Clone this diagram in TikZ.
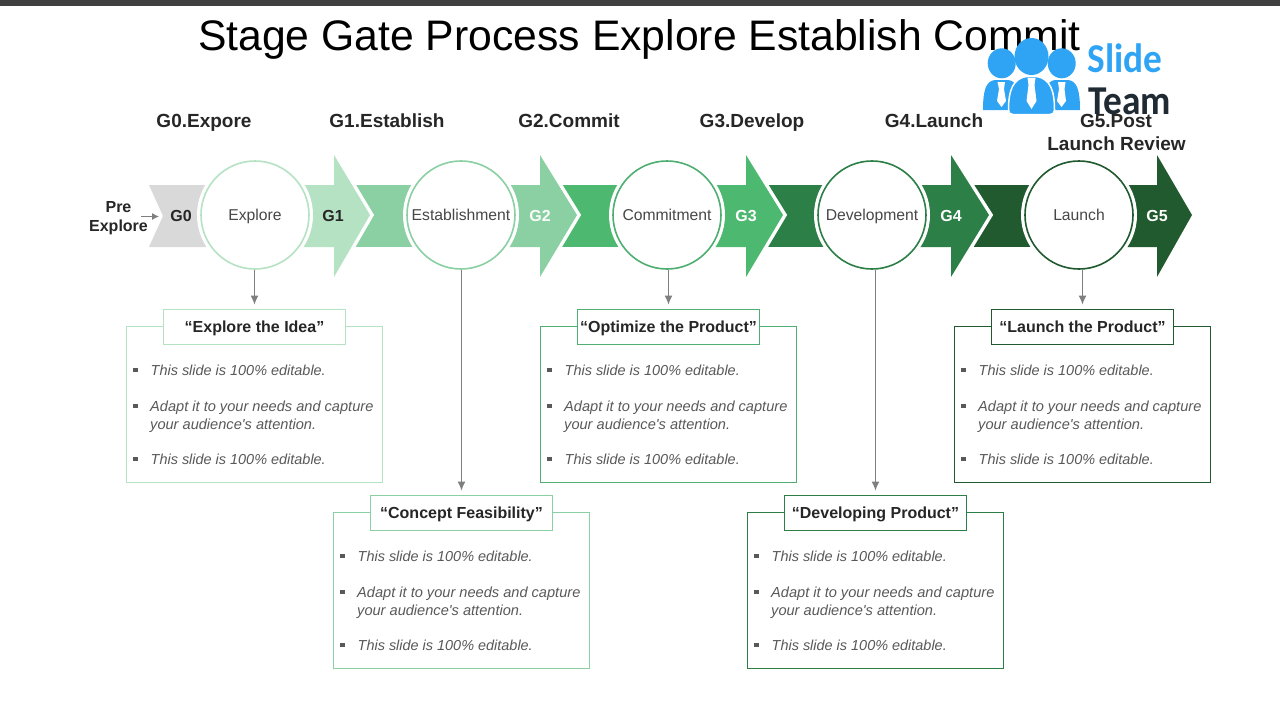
\documentclass[tikz,border=0pt]{standalone}
\usepackage{fontspec}
\setmainfont{Liberation Sans}[Ligatures=TeXOff]
\newfontfamily\logofont{Carlito}[FakeStretch=0.91]
\definecolor{cGrey}{HTML}{D9D9D9}
\definecolor{cA}{HTML}{B6E2C4}
\definecolor{cB}{HTML}{8AD0A3}
\definecolor{cC}{HTML}{4DB86F}
\definecolor{cCl}{HTML}{4FAE72}
\definecolor{cD}{HTML}{2C7F46}
\definecolor{cE}{HTML}{215A2E}
\definecolor{cText}{HTML}{262626}
\definecolor{cBody}{HTML}{595959}
\definecolor{cLine}{HTML}{7F7F7F}
\definecolor{cLogo}{HTML}{2FA4F4}
\definecolor{cTeam}{HTML}{1F2A33}
\usetikzlibrary{arrows.meta}
\tikzset{
  gatelabel/.style={font=\bfseries\fontsize{19}{23}\selectfont,text=cText,align=center,inner sep=0pt,anchor=base},
  gatecode/.style={font=\bfseries\fontsize{16}{19}\selectfont,inner sep=0pt,text height=11.5pt,text depth=0pt},
  stagecircle/.style={circle,minimum size=108pt,inner sep=0pt,fill=white,line width=1.6pt,
    preaction={draw=white,line width=8pt},font=\fontsize{15.7}{19}\selectfont,text=cText!85!white,
    text height=14.5pt,text depth=3.5pt},
  bodybox/.style={draw=#1,line width=1pt,fill=white,minimum width=256pt,minimum height=156pt,inner sep=0pt,anchor=north west},
  headbox/.style={draw=#1,line width=1pt,fill=white,minimum width=182pt,minimum height=35pt,inner sep=0pt,
    font=\bfseries\fontsize{16}{19}\selectfont,text=cText,text height=15.5pt,text depth=3.5pt},
  bodytext/.style={font=\itshape\fontsize{14.45}{17}\selectfont,text=cBody,inner sep=0pt,anchor=base west},
  bodywide/.style={bodytext,font=\itshape\fontsize{14.6}{17}\selectfont},
  bulletmark/.style={fill=cBody,minimum size=4.5pt,inner sep=0pt},
  feeder/.style={draw=cLine,line width=1pt,-{Latex[length=9pt,width=8pt]}},
  whitegap/.style={preaction={draw=white,line width=7pt}}
}
\newcommand{\gatearrow}[3]{% base of head x, tip x, colour
  \fill[#3,whitegap] (#1-40,185) -- (#1,185) -- (#1,155) -- (#2,215) -- (#1,277) -- (#1,247) -- (#1-40,247) -- cycle;}
\newcommand{\gateblock}[3]{% left x, right x, colour
  \fill[#3] (#1,185) -- (#2,185) -- (#2,247) -- (#1,247) -- cycle;}
\newcommand{\contentbox}[6]{% name, x, y, hx offset, colour, title
  \node[bodybox=#5] (b#1) at (#2,#3) {};
  \node[headbox=#5] (h#1) at (#2+#4,#3+1) {#6};
  \node[bulletmark] (b#1a) at (#2+10,#3+44.5) {};
  \node[bulletmark] (b#1b) at (#2+10,#3+80.5) {};
  \node[bulletmark] (b#1c) at (#2+10,#3+133.5) {};
  \node[bodytext] (t#1a) at (#2+25,#3+49.5) {This slide is 100\% editable.};
  \node[bodywide] (t#1b) at (#2+24.5,#3+86) {Adapt it to your needs and capture};
  \node[bodywide] (t#1c) at (#2+24.5,#3+104) {your audience's attention.};
  \node[bodytext] (t#1d) at (#2+25,#3+139) {This slide is 100\% editable.};
}
\begin{document}
\begin{tikzpicture}[x=1pt,y=-1pt]
\useasboundingbox (0,0) rectangle (1280,720);
\fill[white] (0,0) rectangle (1280,720);
\fill[black!75] (0,0) rectangle (1280,6);
\node[font=\fontsize{42.7}{50}\selectfont,text=black,inner sep=0pt,anchor=base] (title) at (639.5,50.5) {Stage Gate Process Explore Establish Commit};
% logo
\fill[cLogo] (983,110) .. controls (983,90) and (986,81) .. (995,80) -- (1008,80) .. controls (1018,81) and (1020,92) .. (1020,110) -- cycle;
\fill[cLogo] (1044,110) .. controls (1044,92) and (1046,81) .. (1055,80) -- (1068,80) .. controls (1077,81) and (1080,90) .. (1080,110) -- cycle;
\fill[cLogo] (1001.7,63.3) ellipse (14 and 15);
\fill[cLogo] (1061.7,63.3) ellipse (14 and 15);
\fill[cLogo,draw=white,line width=1.5pt] (1008.5,110) .. controls (1008.5,90) and (1013,79) .. (1026,76.5) -- (1037,76.5) .. controls (1050,79) and (1054.5,90) .. (1054.5,110) .. controls (1054.5,113) and (1053,114.5) .. (1050,114.5) -- (1013,114.5) .. controls (1010,114.5) and (1008.5,113) .. (1008.5,110) -- cycle;
\fill[cLogo] (1031.5,56.5) ellipse (17 and 18.5);
\fill[white] (1027.5,78) -- (1035.5,78) -- (1034.5,85) -- (1036.5,101) -- (1031.5,109) -- (1026.5,101) -- (1028.5,85) -- cycle;
\fill[white] (997.5,82) -- (1005,82) -- (1004,89) -- (1006,101) -- (1001.5,107) -- (997,101) -- (999,89) -- cycle;
\fill[white] (1058,82) -- (1065.5,82) -- (1064.5,89) -- (1066,101) -- (1061.5,107) -- (1057,101) -- (1059,89) -- cycle;
\node[font=\logofont\bfseries\fontsize{41}{44}\selectfont,text=cLogo,inner sep=0pt,anchor=base west] (slide) at (1087.5,72) {Slide};
\node[font=\logofont\bfseries\fontsize{41}{44}\selectfont,text=cTeam,inner sep=0pt,anchor=base west] (team) at (1088,114.5) {Team};
% gate headings
\node[gatelabel] (l0) at (204,127) {G0.Expore};
\node[gatelabel] (l1) at (387,127) {G1.Establish};
\node[gatelabel] (l2) at (569,127) {G2.Commit};
\node[gatelabel] (l3) at (752,127) {G3.Develop};
\node[gatelabel] (l4) at (934,127) {G4.Launch};
\node[gatelabel] (l5a) at (1116,127) {G5.Post};
\node[gatelabel] (l5b) at (1116.5,150) {Launch Review};
% band
\fill[cGrey] (149,185) -- (220,185) -- (220,247) -- (149,247) -- (163,216) -- cycle;
\gateblock{340}{420}{cB}
\gateblock{545}{625}{cC}
\gateblock{750}{830}{cD}
\gateblock{955}{1035}{cE}
\gatearrow{334}{370}{cA}
\gatearrow{540}{577}{cB}
\gatearrow{746}{783}{cC}
\gatearrow{951}{989}{cD}
\gatearrow{1157}{1192}{cE}
\node[stagecircle,draw=cA] (c1) at (255,215) {Explore};
\node[stagecircle,draw=cB] (c2) at (461,215) {Establishment};
\node[stagecircle,draw=cCl] (c3) at (667,215) {Commitment};
\node[stagecircle,draw=cD] (c4) at (872,215) {Development};
\node[stagecircle,draw=cE] (c5) at (1079,215) {Launch};
\node[gatecode,text=cText] (g0) at (181,216) {G0};
\node[gatecode,text=cText] (g1) at (333,216) {G1};
\node[gatecode,text=white!90!cA] (g2) at (540,216) {G2};
\node[gatecode,text=white] (g3) at (746,216) {G3};
\node[gatecode,text=white] (g4) at (951,216) {G4};
\node[gatecode,text=white] (g5) at (1157,216) {G5};
% pre explore
\node[font=\bfseries\fontsize{16}{19}\selectfont,text=cText,align=center,inner sep=0pt] (pre) at (118.5,218) {Pre\\Explore};
\coordinate (preA) at (141,216.5);
\coordinate (preB) at (159,216.5);
\draw[draw=cLine,line width=1pt,-{Latex[length=7pt,width=7pt]}] (preA) -- (preB);
% content
\contentbox{1}{125.5}{325.5}{129}{cA}{“Explore the Idea”}
\contentbox{2}{332.5}{511.5}{129}{cB}{“Concept Feasibility”}
\contentbox{3}{539.5}{325.5}{129}{cCl}{“Optimize the Product”}
\contentbox{4}{746.5}{511.5}{129}{cD}{“Developing Product”}
\contentbox{5}{953.5}{325.5}{129}{cE}{“Launch the Product”}
\draw[feeder,shorten >=4pt] (h1.north |- c1.south) -- (h1.north);
\draw[feeder,shorten >=4pt] (h2.north |- c2.south) -- (h2.north);
\draw[feeder,shorten >=4pt] (h3.north |- c3.south) -- (h3.north);
\draw[feeder,shorten >=4pt] (h4.north |- c4.south) -- (h4.north);
\draw[feeder,shorten >=4pt] (h5.north |- c5.south) -- (h5.north);
\end{tikzpicture}
\end{document}
